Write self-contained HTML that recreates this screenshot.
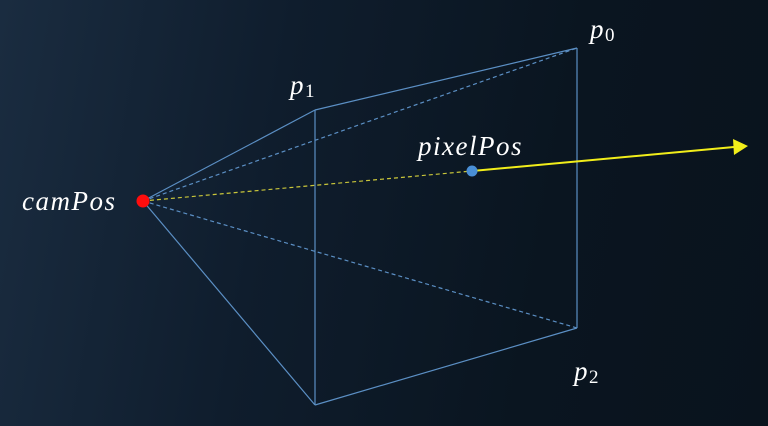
<!DOCTYPE html>
<html><head><style>
html,body{margin:0;padding:0;}
body{width:768px;height:426px;overflow:hidden;background:linear-gradient(100deg,#1a2c40 0%,#0f1d2d 35%,#0a1520 70%,#09131d 100%);}
svg{position:absolute;left:0;top:0;}
text{font-family:"Liberation Serif",serif;font-style:italic;fill:#fff;font-size:27px;letter-spacing:1.5px;}
</style></head><body>
<svg width="768" height="426" viewBox="0 0 768 426">
<g stroke="#5b8fc4" stroke-width="1.2" fill="none">
<line x1="143" y1="201" x2="315" y2="110"/>
<line x1="143" y1="201" x2="315" y2="405"/>
<line x1="315" y1="110" x2="577" y2="48"/>
<line x1="577" y1="48" x2="577" y2="328"/>
<line x1="577" y1="328" x2="315" y2="405"/>
<line x1="315" y1="110" x2="315" y2="405"/>
<line x1="143" y1="201" x2="577" y2="48" stroke-dasharray="4,3"/>
<line x1="143" y1="201" x2="577" y2="328" stroke-dasharray="4,3"/>
</g>
<line x1="143" y1="201" x2="472" y2="171" stroke="#c9c63a" stroke-width="1.2" stroke-dasharray="4,3"/>
<line x1="472" y1="171" x2="734" y2="147" stroke="#f2ee1a" stroke-width="2"/>
<polygon points="748,146 733,139 734,155" fill="#f2ee1a"/>
<circle cx="143" cy="201" r="6.5" fill="#ff0d0d"/>
<circle cx="472" cy="171" r="5.5" fill="#4a8fd6"/>
<text x="22" y="210">camPos</text>
<text x="418" y="155">pixelPos</text>
<text x="290" y="94">p<tspan font-style="normal" font-size="19" dy="3">1</tspan></text>
<text x="590" y="38">p<tspan font-style="normal" font-size="19" dy="3">0</tspan></text>
<text x="574" y="380">p<tspan font-style="normal" font-size="19" dy="3">2</tspan></text>
</svg>
</body></html>
